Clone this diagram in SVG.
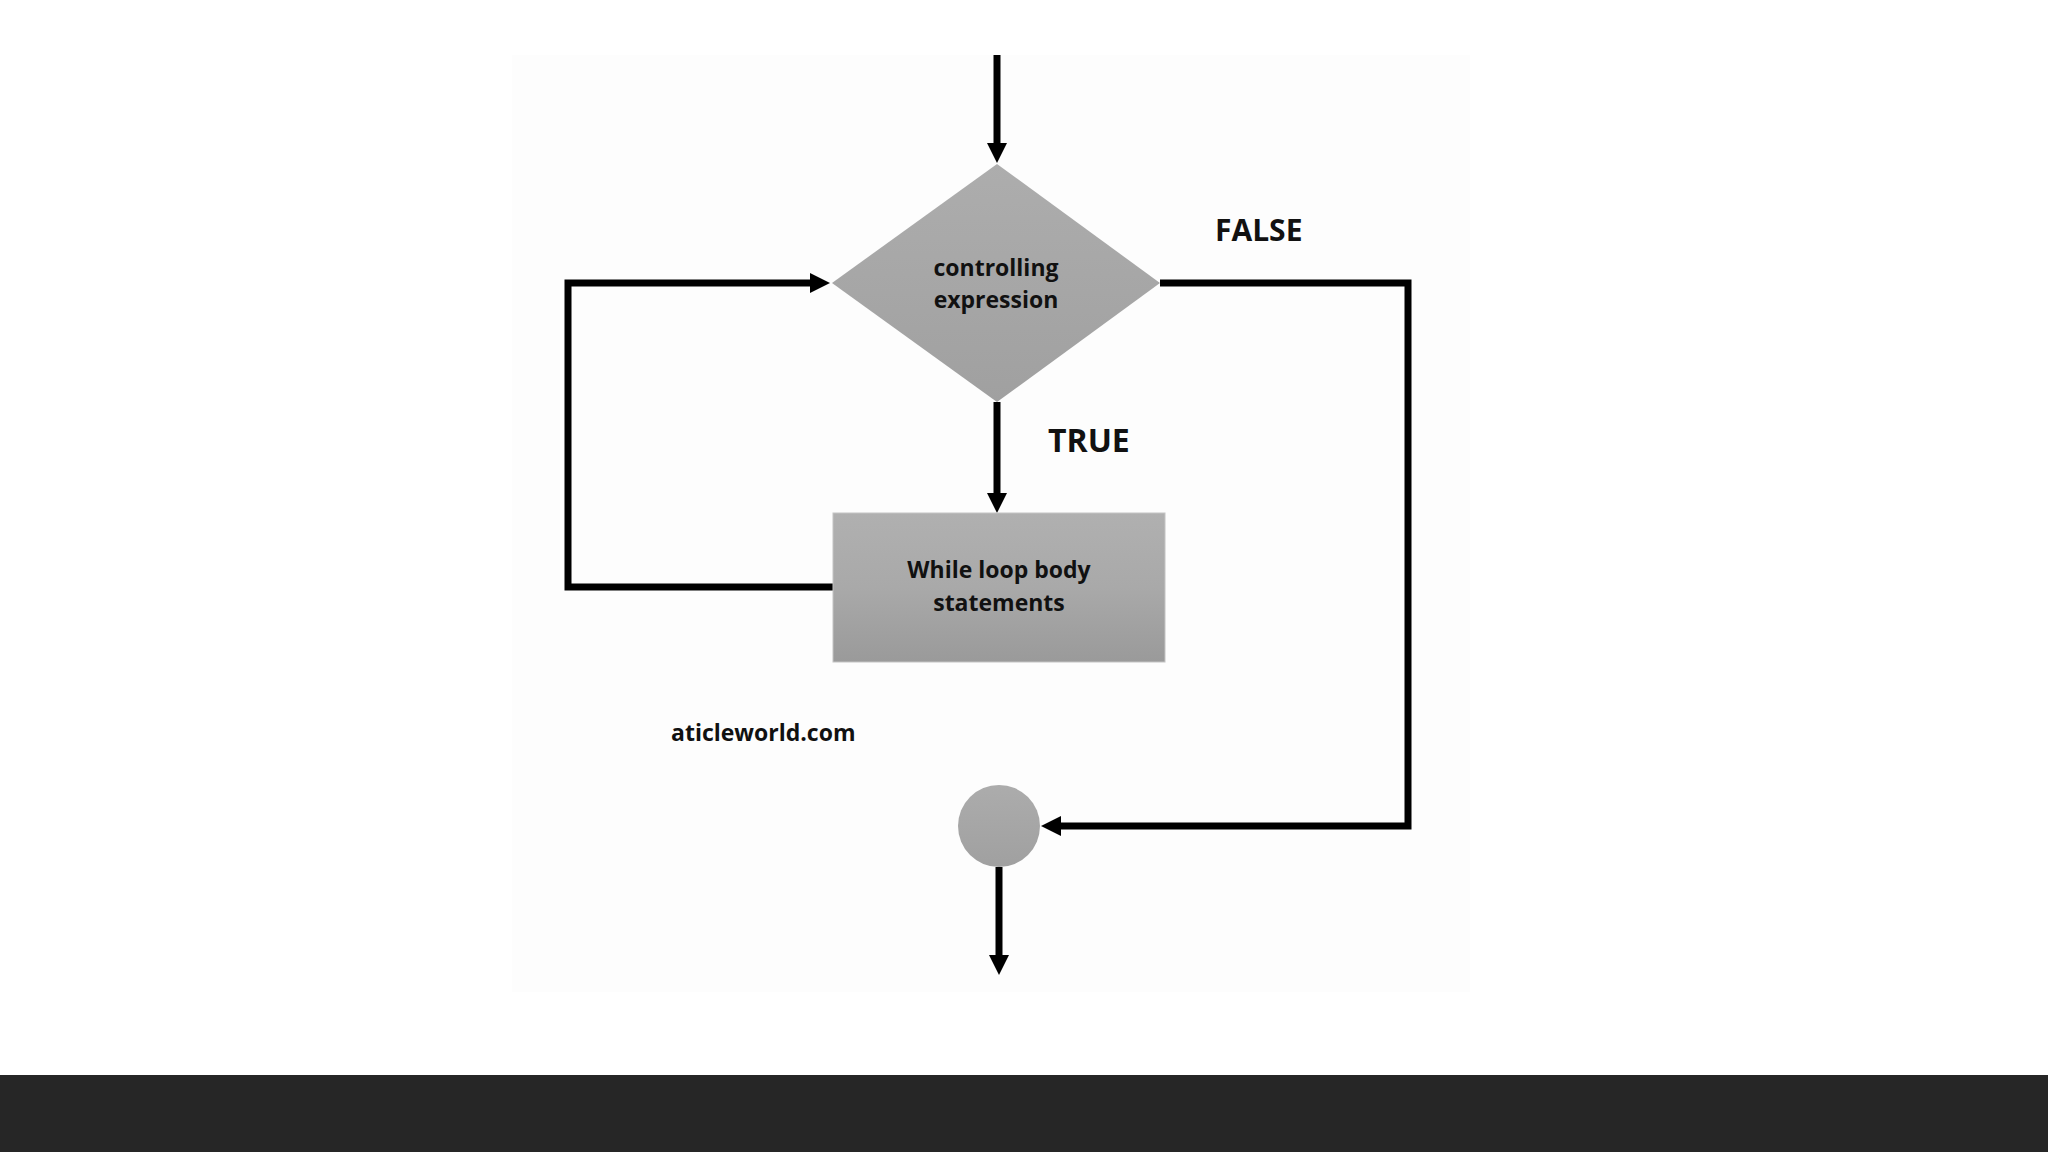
<svg xmlns="http://www.w3.org/2000/svg" width="2048" height="1152" viewBox="0 0 2048 1152">
  <style>
    .lbl { font-family: "Open Sans", "Liberation Sans", sans-serif; font-weight: 700; fill: #111111; }
    .node-text { font-size: 23px; text-anchor: middle; }
    .edge-text { font-size: 30px; }
    .conn { fill: none; stroke: #000000; stroke-width: 7; stroke-linejoin: miter; marker-end: url(#arrow); }
  </style>
  <defs>
    <marker id="arrow" viewBox="0 0 20 20" markerWidth="20" markerHeight="20" refX="0" refY="10" orient="auto" markerUnits="userSpaceOnUse">
      <path d="M0,0 L20,10 L0,20 Z" fill="#000000"/>
    </marker>
    <linearGradient id="gDiamond" x1="0" y1="0" x2="0" y2="1">
      <stop offset="0" stop-color="#adadad"/>
      <stop offset="1" stop-color="#a0a0a0"/>
    </linearGradient>
    <linearGradient id="gRect" x1="0" y1="0" x2="0" y2="1">
      <stop offset="0" stop-color="#b0b0b0"/>
      <stop offset="0.5" stop-color="#a9a9a9"/>
      <stop offset="1" stop-color="#9a9a9a"/>
    </linearGradient>
    <linearGradient id="gCircle" x1="0" y1="0" x2="0" y2="1">
      <stop offset="0" stop-color="#acacac"/>
      <stop offset="1" stop-color="#a0a0a0"/>
    </linearGradient>
  </defs>

  <rect x="0" y="0" width="2048" height="1152" fill="#ffffff"/>
  <rect x="512" y="55" width="958" height="937" fill="#fdfdfd"/>
  <rect x="0" y="1075" width="2048" height="77" fill="#262626"/>

  <g id="connectors">
    <path class="conn" d="M997,55 V143"/>
    <path class="conn" d="M997,402 V493"/>
    <path class="conn" d="M833,587 H568 V283 H810"/>
    <path class="conn" d="M1160,283 H1408 V826 H1061"/>
    <path class="conn" d="M999,867 V955"/>
  </g>

  <g id="decision">
    <polygon points="997,164 1160,283 997,402 832,283" fill="url(#gDiamond)"/>
    <text class="lbl node-text" x="996" y="276">controlling</text>
    <text class="lbl node-text" x="996" y="308">expression</text>
  </g>

  <g id="body">
    <rect x="833" y="513" width="332" height="149" fill="url(#gRect)" stroke="#c4c4c4" stroke-width="1"/>
    <text class="lbl node-text" x="999" y="578">While loop body</text>
    <text class="lbl node-text" x="999" y="611">statements</text>
  </g>

  <g id="end">
    <circle cx="999" cy="826" r="41" fill="url(#gCircle)"/>
  </g>

  <g id="labels">
    <text class="lbl edge-text" x="1215" y="241">FALSE</text>
    <text class="lbl" x="1048" y="452" font-size="32">TRUE</text>
    <text class="lbl" x="671" y="741" font-size="23">aticleworld.com</text>
  </g>
</svg>
